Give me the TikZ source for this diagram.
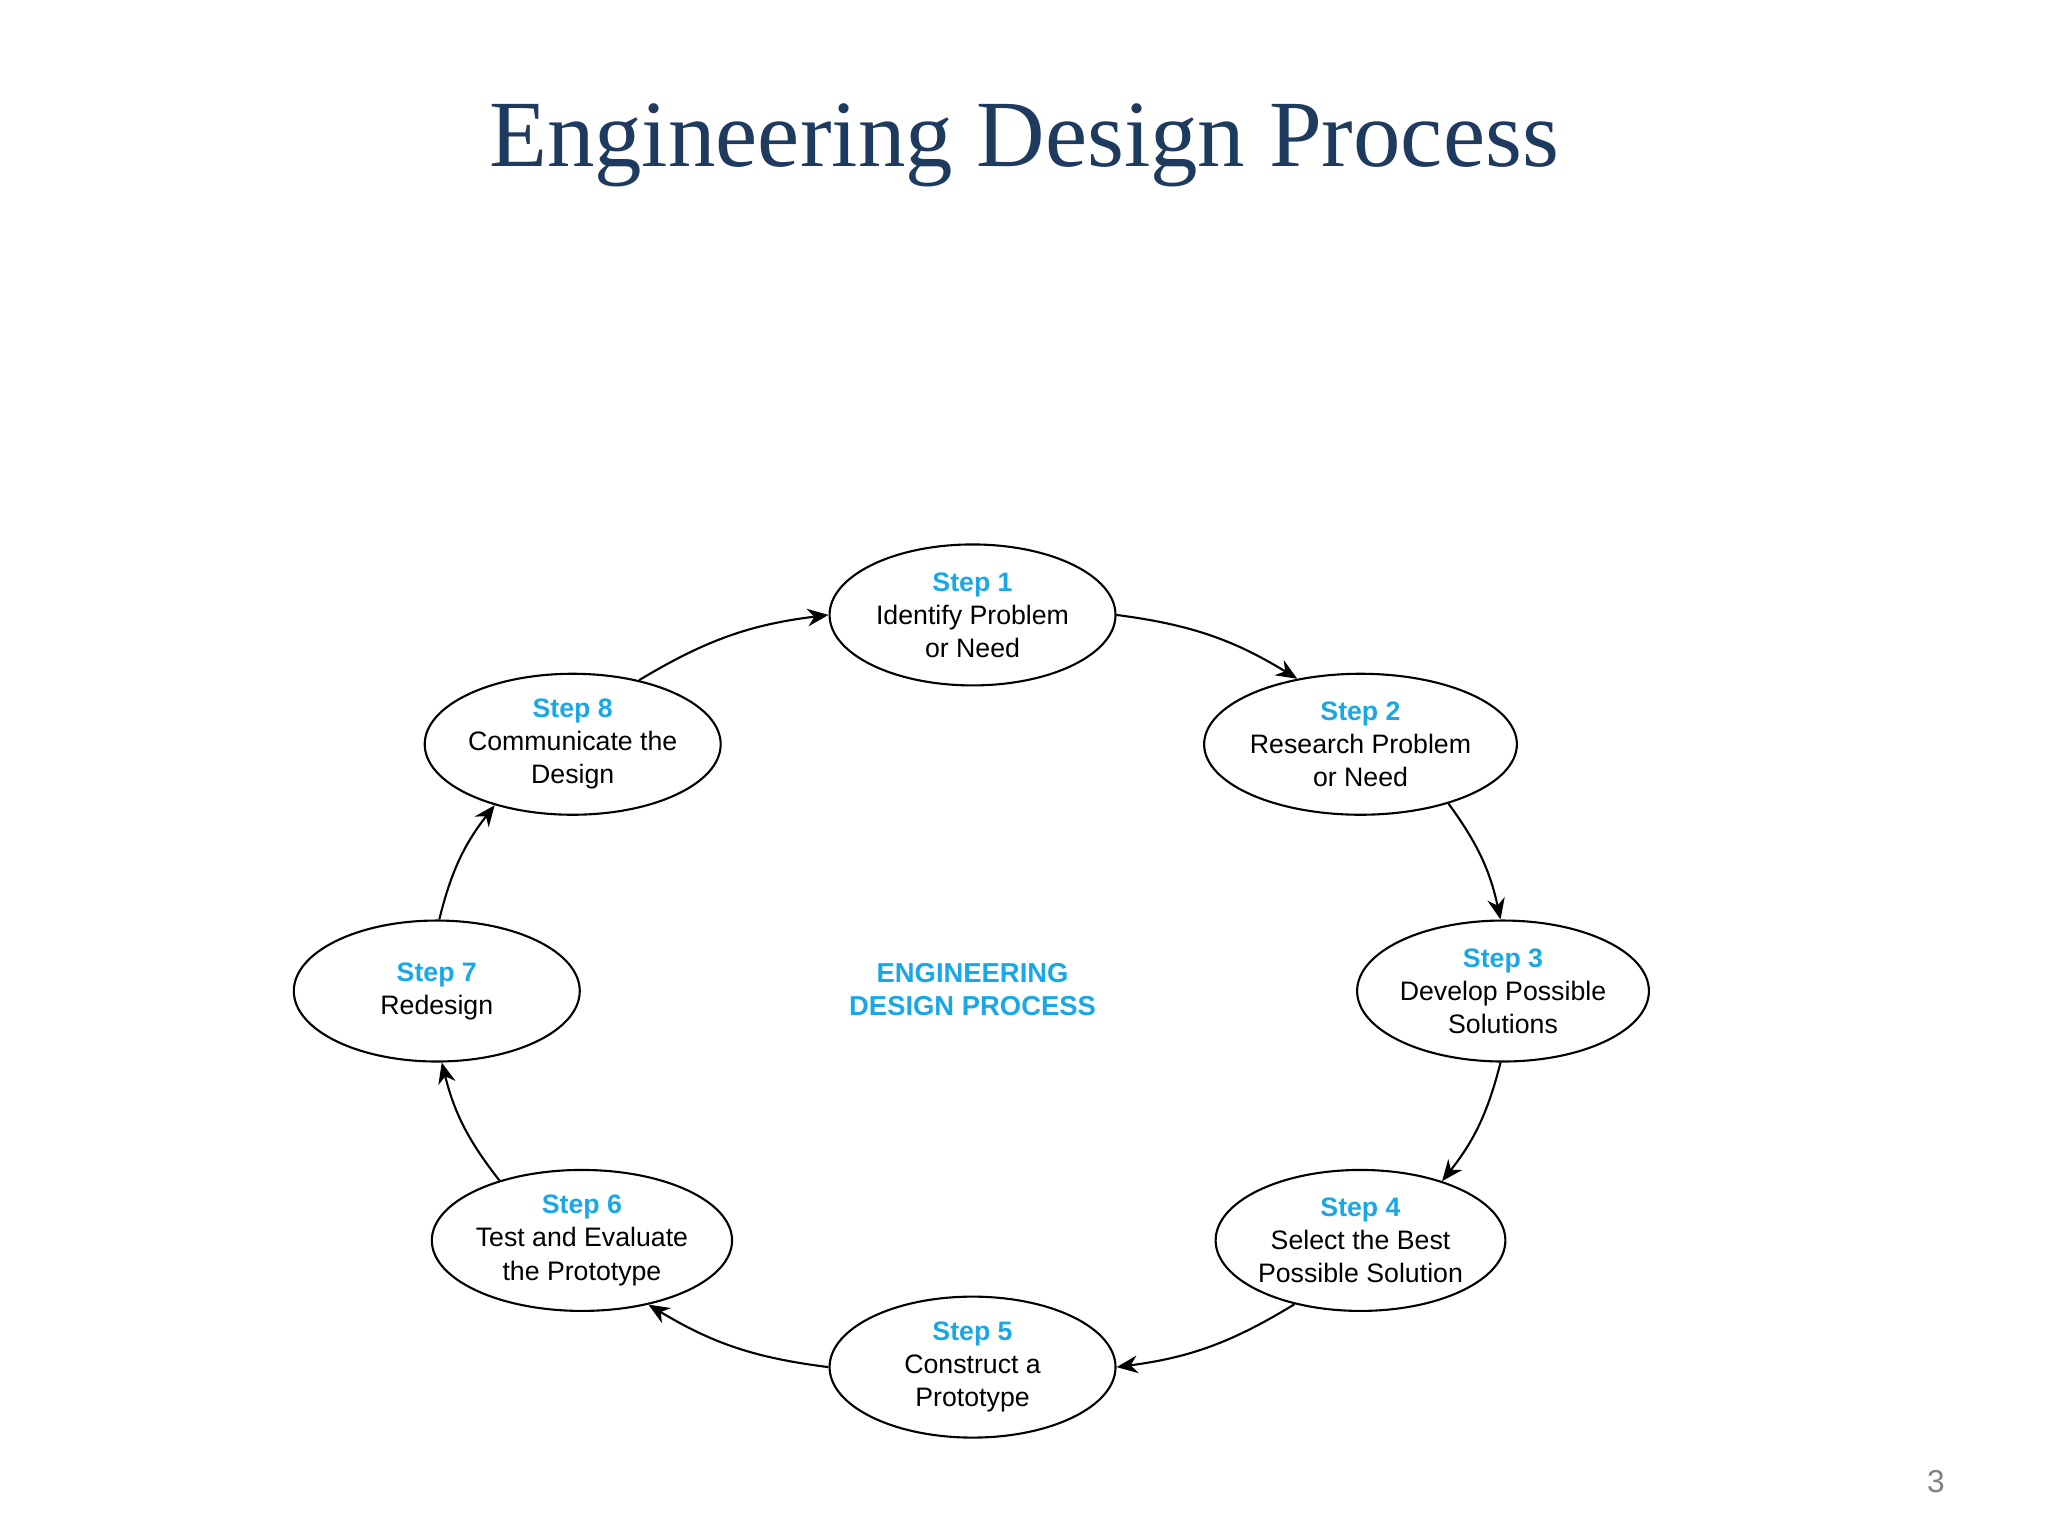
\documentclass[tikz,border=0pt]{standalone}
\usepackage{fontspec}
\setmainfont{Liberation Sans}
\newfontfamily\titlefont{Liberation Serif}
\usetikzlibrary{shapes.geometric,arrows.meta}
\definecolor{stepblue}{HTML}{1AA7E6}
\definecolor{titleblue}{HTML}{1F3A5F}
\begin{document}
\begin{tikzpicture}[x=0.013196cm,y=-0.013196cm,
  stepbox/.style={ellipse,draw,line width=0.6pt,minimum width=2.86cm,minimum height=1.41cm,inner sep=0pt,align=center,font=\fontsize{7.6}{9.4}\selectfont},
  conn/.style={-{Stealth[length=6pt,width=5pt]},line width=0.6pt,bend left=12}]
\useasboundingbox (0,0) rectangle (1552,1164);
\node[font=\titlefont\fontsize{27}{30}\selectfont,text=titleblue] (title) at (776,110) {Engineering Design Process};
\newcommand{\st}[1]{\textcolor{stepblue}{\textbf{Step #1}}}
\node[stepbox] (s1) at (737,466) {\st{1}\\Identify Problem\\or Need};
\node[stepbox] (s2) at (1031,564) {\st{2}\\Research Problem\\or Need};
\node[stepbox] (s3) at (1139,751) {\st{3}\\Develop Possible\\Solutions};
\node[stepbox] (s4) at (1031,940) {\st{4}\\Select the Best\\Possible Solution};
\node[stepbox] (s5) at (737,1036) {\st{5}\\Construct a\\Prototype};
\node[stepbox] (s6) at (441,940) {\st{6}\\Test and Evaluate\\the Prototype};
\node[stepbox] (s7) at (331,751) {\st{7}\\Redesign};
\node[stepbox] (s8) at (434,564) {\st{8}\\Communicate the\\Design};
\node[align=center,text=stepblue,font=\bfseries\fontsize{7.8}{9.4}\selectfont] (c) at (737,750) {ENGINEERING\\DESIGN PROCESS};
\node[text=gray,font=\fontsize{9}{11}\selectfont] (pg) at (1467,1123) {3};
\draw[conn] (s1.0) to (s2.134);
\draw[conn] (s2.-34) to (s3.92);
\draw[conn] (s3.-92) to (s4.36);
\draw[conn] (s4.-136) to (s5.0);
\draw[conn] (s5.180) to (s6.-44);
\draw[conn] (s6.144) to (s7.-86);
\draw[conn] (s7.88) to (s8.-142);
\draw[conn] (s8.44) to (s1.180);
\end{tikzpicture}
\end{document}
